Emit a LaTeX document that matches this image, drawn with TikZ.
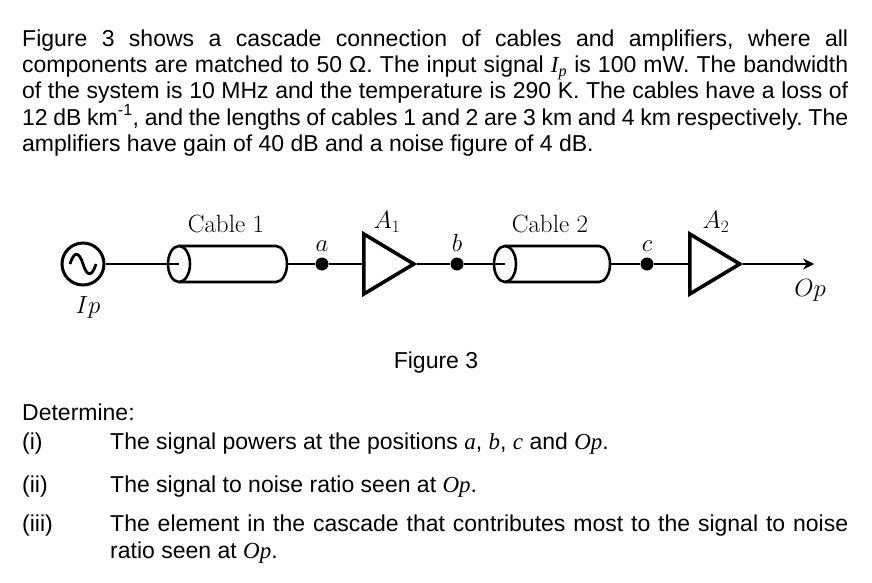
\documentclass[tikz,border=0pt]{standalone}
\usepackage{fontspec}
\setmainfont{Liberation Sans}
\newfontfamily\lmr{Latin Modern Roman}
\newfontfamily\tms{Liberation Serif}
\usetikzlibrary{arrows.meta,shapes.geometric}
\begin{document}
\frenchspacing
\begin{tikzpicture}[x=1pt,y=-1pt,
  txt/.style={anchor=base west,inner sep=0pt,font=\fontsize{23}{26}\selectfont},
  lbl/.style={inner sep=0pt,font=\lmr\fontsize{25}{28}\selectfont},
  wire/.style={line width=2.2pt},
  dot/.style={circle,fill=black,inner sep=0pt,minimum size=13pt},
  amp/.style={isosceles triangle,draw,line width=3.6pt,minimum height=50pt,minimum width=60pt,isosceles triangle apex angle=63,isosceles triangle stretches,inner sep=0pt}]
\useasboundingbox (0,0) rectangle (872,583);
% problem text
\node[txt] (l1) at (22,47) {\makebox[826pt][s]{Figure 3 shows a cascade connection of cables and amplifiers, where all}};
\node[txt] (l2) at (22,73) {\makebox[826pt][s]{components are matched to 50 Ω. The input signal {\tms\itshape I\textsubscript{p}} is 100 mW. The bandwidth}};
\node[txt] (l3) at (22,99) {\makebox[826pt][s]{of the system is 10 MHz and the temperature is 290 K. The cables have a loss of}};
\node[txt] (l4) at (22,125) {\makebox[826pt][s]{12 dB km\textsuperscript{-1}, and the lengths of cables 1 and 2 are 3 km and 4 km respectively. The}};
\node[txt] (l5) at (22,151) {amplifiers have gain of 40 dB and a noise figure of 4 dB.};
% circuit
\node[circle,draw,line width=3pt,minimum size=42pt,inner sep=0pt] (src) at (83,264) {};
\draw[line width=2.8pt] (70,264) .. controls (74,251) and (79,251) .. (83,264) .. controls (87,277) and (92,277) .. (96,264);
\node[lbl] (ip) at (88,307) {$Ip$};
\begin{scope}[line width=2.6pt]
\draw (179,246) -- (276,246) arc (-90:90:11 and 18) -- (179,282);
\draw (179,264) ellipse (11 and 18);
\draw (505,246) -- (599,246) arc (-90:90:11 and 18) -- (505,282);
\draw (505,264) ellipse (11 and 18);
\end{scope}
\coordinate (c1l) at (179,264);
\coordinate (c1r) at (287,264);
\coordinate (c2l) at (505,264);
\coordinate (c2r) at (610,264);
\node[dot] (a) at (322,264) {};
\node[dot] (b) at (457,264) {};
\node[dot] (c) at (647,264) {};
\node[amp,anchor=west] (A1) at (362,264) {};
\node[amp,anchor=west] (A2) at (688,264) {};
\coordinate (out) at (814,264);
\draw[wire] (src.east) -- (c1l);
\draw[wire] (c1r) -- (a) -- (A1.west);
\draw[wire] (A1.east) -- (b) -- (c2l);
\draw[wire] (c2r) -- (c) -- (A2.west);
\draw[wire,-{Stealth[length=11pt,width=11pt]}] (A2.east) -- (out);
\node[lbl] (t1) at (226,224) {Cable 1};
\node[lbl] (t2) at (550,224) {Cable 2};
\node[lbl] (ta1) at (387,222) {$A_1$};
\node[lbl] (ta2) at (716,222) {$A_2$};
\node[lbl] (la) at (322,246) {$a$};
\node[lbl] (lb) at (457,243) {$b$};
\node[lbl] (lc) at (647,246) {$c$};
\node[lbl] (lop) at (810,290) {$Op$};
\node[txt,anchor=base] (fig) at (436,368) {Figure 3};
% questions
\node[txt] (d) at (22,420) {Determine:};
\node[txt] (q1) at (22,449) {(i)};
\node[txt] (a1) at (110,449) {The signal powers at the positions {\tms\itshape a}, {\tms\itshape b}, {\tms\itshape c} and {\tms\itshape Op}.};
\node[txt] (q2) at (22,492) {(ii)};
\node[txt] (a2) at (110,492) {The signal to noise ratio seen at {\tms\itshape Op}.};
\node[txt] (q3) at (22,531) {(iii)};
\node[txt] (a3) at (110,531) {\makebox[738pt][s]{The element in the cascade that contributes most to the signal to noise}};
\node[txt] (a3b) at (110,558) {ratio seen at {\tms\itshape Op}.};
\end{tikzpicture}
\end{document}
